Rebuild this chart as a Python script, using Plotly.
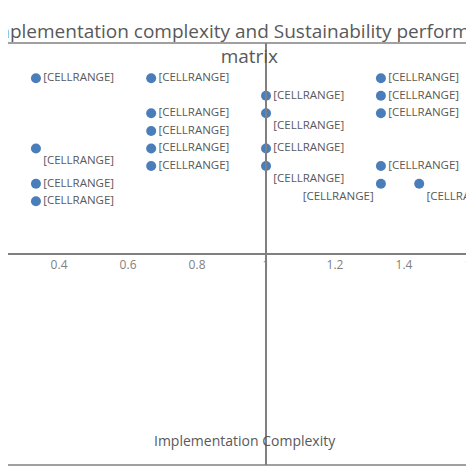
import plotly.graph_objects as go

# implementation complexity (x) and sustainability performance (y)
complexity = [0.333, 0.333, 0.333, 0.333,
              0.667, 0.667, 0.667, 0.667, 0.667,
              1.0, 1.0, 1.0, 1.0,
              1.333, 1.333, 1.333, 1.333, 1.333,
              1.444]
performance = [1.833, 1.5, 1.333, 1.25,
               1.833, 1.667, 1.583, 1.5, 1.417,
               1.75, 1.667, 1.5, 1.417,
               1.833, 1.75, 1.667, 1.417, 1.333,
               1.333]
labels = ["[CELLRANGE]"] * len(complexity)
label_pos = ["middle right", "bottom right", "middle right", "middle right",
             "middle right", "middle right", "middle right", "middle right", "middle right",
             "middle right", "bottom right", "middle right", "bottom right",
             "middle right", "middle right", "middle right", "middle right", "bottom left",
             "bottom right"]
x_ticks = [0.4, 0.6, 0.8, 1, 1.2, 1.4, 1.6]

xr = [0.252, 1.626]
gray = "#808080"

fig = go.Figure()
fig.add_trace(go.Scatter(
    x=complexity, y=performance, mode="markers+text",
    text=labels, textposition=label_pos,
    textfont=dict(size=11.5, color="#595959", family="Open Sans"),
    marker=dict(size=10, color="#4a7ebb"),
    cliponaxis=False, showlegend=False,
))

fig.update_layout(
    width=474, height=474,
    margin=dict(l=0, r=0, t=35, b=17),
    paper_bgcolor="white", plot_bgcolor="white",
    xaxis=dict(range=xr, anchor="free", position=0.5, tickvals=x_ticks,
               ticktext=[str(v) for v in x_ticks], showgrid=False, zeroline=False,
               showline=True, linecolor=gray, linewidth=1.5, ticks="",
               tickfont=dict(size=12, color="#7f7f7f", family="Open Sans")),
    yaxis=dict(range=[0, 2], anchor="free",
               position=(1 - xr[0]) / (xr[1] - xr[0]), showticklabels=False,
               showgrid=False, zeroline=False, showline=True,
               linecolor=gray, linewidth=1.5, ticks=""),
    shapes=[
        dict(type="line", xref="paper", yref="paper", x0=0, x1=1, y0=1, y1=1,
             line=dict(color=gray, width=1.5)),
        dict(type="line", xref="paper", yref="paper", x0=0, x1=1, y0=0, y1=0,
             line=dict(color=gray, width=1.5)),
    ],
    annotations=[
        dict(text="Implementation complexity and Sustainability performance<br>matrix",
             xref="paper", yref="paper", x=0.51, y=1.0, yanchor="middle",
             showarrow=False, font=dict(size=19, color="#595959", family="Open Sans")),
        dict(text="Implementation Complexity", xref="paper", yref="paper",
             x=0.5, y=0.03, showarrow=False,
             font=dict(size=14, color="#595959", family="Open Sans")),
    ],
)

fig.write_html("out.html")
